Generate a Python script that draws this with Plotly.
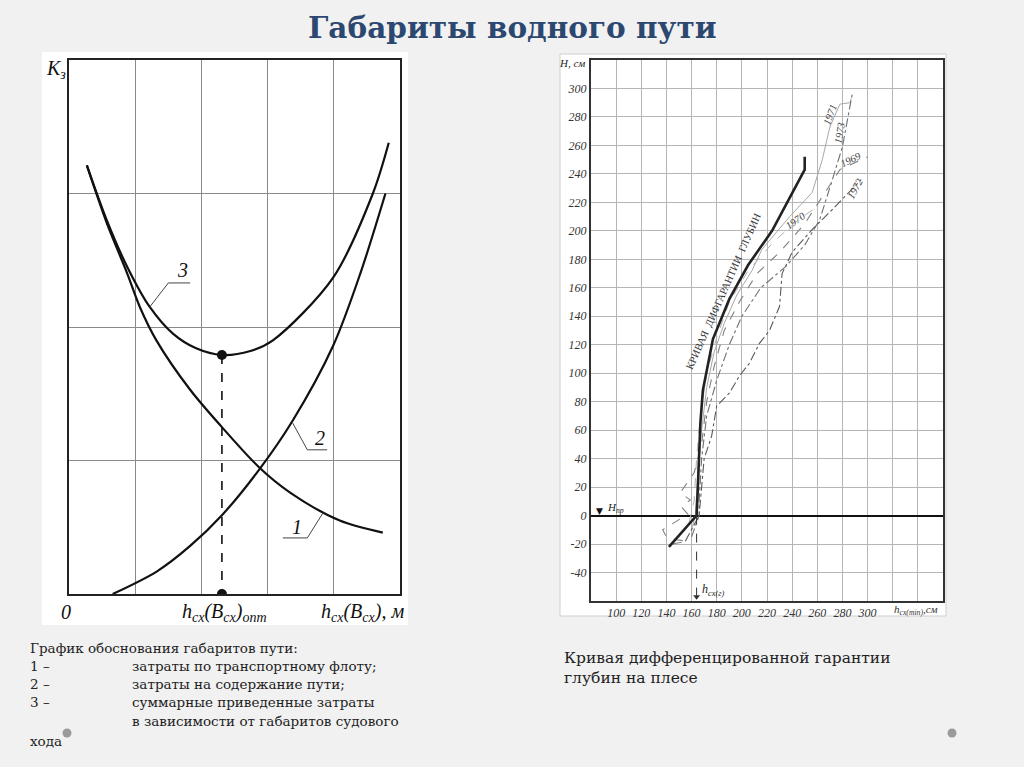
import plotly.graph_objects as go

W, H = 1024, 767


def px(x):
    return x / W


def py(y):
    return 1 - y / H


# ---------------- data: left chart (cost curves) ----------------
curve1_x = [0.27, 0.57, 0.88, 1.07, 1.32, 1.83, 2.31, 2.87, 3.34, 4.09, 4.74]
curve1_y = [3.21, 2.78, 2.40, 2.15, 1.90, 1.53, 1.25, 0.95, 0.76, 0.55, 0.46]

curve2_x = [0.66, 1.33, 1.83, 2.31, 2.87, 3.38, 3.99, 4.40, 4.78]
curve2_y = [0.00, 0.17, 0.36, 0.59, 0.93, 1.30, 1.86, 2.40, 3.00]

curve3_x = [0.27, 0.57, 0.88, 1.22, 1.57, 1.92, 2.31, 2.74, 3.08, 3.99, 4.59, 4.83]
curve3_y = [3.21, 2.80, 2.45, 2.15, 1.95, 1.84, 1.79, 1.82, 1.90, 2.37, 3.00, 3.38]

opt_x = 2.31
opt_y = 1.79

# ---------------- data: right chart (depth guarantee) ----------------
thick_x = [142, 164, 165, 166, 167, 169, 177, 190, 205, 224, 239, 250, 250]
thick_y = [-22, 0, 20, 45, 65, 88, 124, 152, 176, 200, 225, 243, 252]

y1971_x = [160, 163, 165, 168, 172, 178, 186, 196, 208, 216, 238, 256, 264, 270, 278, 286, 287]
y1971_y = [-10, 0, 30, 60, 90, 115, 135, 155, 172, 187, 210, 227, 250, 273, 289, 290, 293]

y1973_x = [160, 166, 166, 168, 172, 180, 190, 200, 215, 235, 250, 262, 272, 280, 288]
y1973_y = [-15, 0, 10, 40, 70, 95, 120, 140, 160, 175, 190, 208, 236, 259, 297]

y1969_x = [145, 156, 148, 140, 137, 157, 152, 159, 151, 162, 168, 172, 178, 186, 198, 212, 230, 250, 264, 278, 300]
y1969_y = [-20, -18, -17, -15, -10, 1, 6, 11, 16, 30, 50, 80, 105, 130, 150, 170, 185, 205, 224, 243, 252]

y1972_x = [155, 166, 168, 170, 176, 180, 190, 198, 206, 214, 222, 230, 232, 240, 256, 272, 295]
y1972_y = [-18, 0, 20, 40, 56, 77, 86, 98, 107, 121, 130, 147, 170, 185, 201, 215, 236]

y1970_x = [158, 162, 164, 167, 172, 180, 190, 205, 225, 245, 262]
y1970_y = [-5, 10, 40, 70, 100, 125, 150, 172, 192, 208, 218]

hcx_g = 164

x_ticks = [100, 120, 140, 160, 180, 200, 220, 240, 260, 280, 300, 320, 340]
x_ticklabels = ["100", "120", "140", "160", "180", "200", "220", "240", "260", "280", "300", "", ""]
y_ticks = [-40, -20, 0, 20, 40, 60, 80, 100, 120, 140, 160, 180, 200, 220, 240, 260, 280, 300]
y_ticklabels = [str(v) for v in y_ticks]

year_labels = ["1971", "1973", "1969", "1972", "1970"]

SERIF = "Liberation Serif"
CAP = "DejaVu Serif"

fig = go.Figure()

# left chart curves
for cx, cy in [(curve1_x, curve1_y), (curve2_x, curve2_y), (curve3_x, curve3_y)]:
    fig.add_trace(go.Scatter(x=cx, y=cy, mode="lines",
                             line=dict(color="#111", width=2.2, shape="spline", smoothing=0.9),
                             xaxis="x", yaxis="y", hoverinfo="skip"))
fig.add_trace(go.Scatter(x=[opt_x, opt_x], y=[opt_y, 0], mode="lines+markers",
                         line=dict(color="#111", width=1.6, dash="dash"),
                         marker=dict(size=10, color="#111"),
                         xaxis="x", yaxis="y", hoverinfo="skip"))

# right chart thin curves
styles = [
    ("#a8a8a8", "solid", 1.0),
    ("#707070", "dashdot", 1.1),
    ("#808080", "dash", 1.1),
    ("#5a5a5a", "dashdot", 1.1),
    ("#b0b0b0", "dash", 1.0),
]
thin = [(y1971_x, y1971_y), (y1973_x, y1973_y), (y1969_x, y1969_y), (y1972_x, y1972_y), (y1970_x, y1970_y)]
for (cx, cy), (col, dsh, wd) in zip(thin, styles):
    fig.add_trace(go.Scatter(x=cx, y=cy, mode="lines", line=dict(color=col, width=wd, dash=dsh),
                             xaxis="x2", yaxis="y2", hoverinfo="skip"))
fig.add_trace(go.Scatter(x=thick_x, y=thick_y, mode="lines", line=dict(color="#222", width=2.6),
                         xaxis="x2", yaxis="y2", hoverinfo="skip"))
fig.add_trace(go.Scatter(x=[hcx_g, hcx_g], y=[0, -57], mode="lines",
                         line=dict(color="#333", width=1, dash="dash"),
                         xaxis="x2", yaxis="y2", hoverinfo="skip"))
fig.add_trace(go.Scatter(x=[hcx_g], y=[-57], mode="markers",
                         marker=dict(symbol="triangle-down", size=6, color="#333"),
                         xaxis="x2", yaxis="y2", hoverinfo="skip"))

shapes = []
# white image boxes
shapes.append(dict(type="rect", xref="paper", yref="paper", x0=px(42), x1=px(408), y0=py(625), y1=py(52),
                   fillcolor="white", line=dict(width=0), layer="below"))
shapes.append(dict(type="rect", xref="paper", yref="paper", x0=px(560), x1=px(946), y0=py(616), y1=py(54),
                   fillcolor="white", line=dict(color="#cfcfcf", width=1), layer="below"))
# decorative dots
for cxp, cyp in [(67, 733), (952, 733)]:
    shapes.append(dict(type="circle", xref="paper", yref="paper", x0=px(cxp - 4.5), x1=px(cxp + 4.5),
                       y0=py(cyp + 4.5), y1=py(cyp - 4.5), fillcolor="#9a9a9a", line=dict(width=0)))
# leader lines for curve labels (left chart)
for seg in [[(1.22, 2.15), (1.50, 2.33), (1.83, 2.33)],
            [(3.38, 1.28), (3.60, 1.08), (3.90, 1.08)],
            [(3.84, 0.61), (3.60, 0.42), (3.23, 0.42)]]:
    for (xa, ya), (xb, yb) in zip(seg[:-1], seg[1:]):
        shapes.append(dict(type="line", xref="x", yref="y", x0=xa, y0=ya, x1=xb, y1=yb,
                           line=dict(color="#444", width=1)))

ann = []


def add(text, x, y, xref="paper", yref="paper", xanchor="center", yanchor="middle", **kw):
    d = dict(text=text, x=x, y=y, xref=xref, yref=yref, xanchor=xanchor, yanchor=yanchor, showarrow=False)
    d.update(kw)
    ann.append(d)


add("<b>Габариты водного пути</b>", px(512), py(28),
    font=dict(family="DejaVu Serif", size=29.5, color="#2c4870"))
# left chart labels
for t, xx, yy in [("3", 1.71, 2.43), ("2", 3.79, 1.17), ("1", 3.44, 0.50)]:
    add("<i>%s</i>" % t, xx, yy, xref="x", yref="y", font=dict(family=SERIF, size=20, color="#111"))
add("<i>K</i><sub><i>з</i></sub>", px(56), py(70), font=dict(family=SERIF, size=20, color="#111"))
add("<i>0</i>", px(66), py(612), font=dict(family=SERIF, size=20, color="#111"))
add("<i>h</i><sub><i>cx</i></sub><i>(B</i><sub><i>cx</i></sub><i>)</i><sub><i>опт</i></sub>",
    px(224), py(612), font=dict(family=SERIF, size=20, color="#111"))
add("<i>h</i><sub><i>cx</i></sub><i>(B</i><sub><i>cx</i></sub><i>), м</i>",
    px(406), py(612), xanchor="right", font=dict(family=SERIF, size=20, color="#111"))
# right chart labels
add("<i>H, см</i>", px(587), py(63), xanchor="right", font=dict(family=SERIF, size=11, color="#222"))
add("<i>h</i><sub><i>cx(min)</i></sub><i>,см</i>", px(916), py(610),
    font=dict(family=SERIF, size=11, color="#333"))
add("<i>h</i><sub><i>cx(г)</i></sub>", hcx_g + 3, -52, xref="x2", yref="y2", xanchor="left",
    font=dict(family=SERIF, size=12, color="#222"))
add("▼", 87, 3, xref="x2", yref="y2", font=dict(family="DejaVu Sans", size=9, color="#111"))
add("<i>H</i><sub><i>пр</i></sub>", 91, 5, xref="x2", yref="y2", xanchor="left",
    font=dict(family=SERIF, size=11, color="#222"))
add("КРИВАЯ  ДИФГАРАНТИИ  ГЛУБИН", px(723), py(291), textangle=-66,
    font=dict(family=SERIF, size=10.5, color="#333"))
for t, xx, yy, ang in zip(year_labels, [270, 278, 287, 290, 243], [282, 269, 250, 230, 207],
                          [-70, -80, -25, -62, -35]):
    add("<i>%s</i>" % t, xx, yy, xref="x2", yref="y2", textangle=ang,
        font=dict(family=SERIF, size=10.5, color="#444"))
# captions
left_lines = [("График обоснования габаритов пути:", 28, 648),
              ("1 –", 28, 666), ("затраты по транспортному флоту;", 130, 666),
              ("2 –", 28, 684), ("затраты на содержание пути;", 130, 684),
              ("3 –", 28, 702), ("суммарные приведенные затраты", 130, 702),
              ("в зависимости от габаритов судового", 130, 721),
              ("хода", 28, 741)]
for t, xx, yy in left_lines:
    add(t, px(xx), py(yy), xanchor="left", font=dict(family=CAP, size=13.5, color="#222"))
for t, yy in [("Кривая дифференцированной гарантии", 658), ("глубин на плесе", 678)]:
    add(t, px(562), py(yy), xanchor="left", font=dict(family=CAP, size=15.5, color="#222"))

fig.update_layout(
    width=W, height=H, margin=dict(l=0, r=0, t=0, b=0),
    paper_bgcolor="#f1f1f1", plot_bgcolor="white", showlegend=False,
    shapes=shapes, annotations=ann,
    xaxis=dict(domain=[px(69), px(400)], range=[0, 5], dtick=1, tick0=0, showgrid=True,
               gridcolor="#8a8a8a", gridwidth=1, showline=True, mirror=True, linecolor="#222",
               linewidth=2, showticklabels=False, zeroline=False, ticks="", anchor="y", fixedrange=True),
    yaxis=dict(domain=[py(594), py(60)], range=[0, 4], dtick=1, tick0=0, showgrid=True,
               gridcolor="#8a8a8a", gridwidth=1, showline=True, mirror=True, linecolor="#222",
               linewidth=2, showticklabels=False, zeroline=False, ticks="", anchor="x", fixedrange=True),
    xaxis2=dict(domain=[px(591), px(943)], range=[80, 360], tickvals=x_ticks, ticktext=x_ticklabels,
                showgrid=True, gridcolor="#b5b5b5", gridwidth=1, showline=True, mirror=True,
                linecolor="#333", linewidth=2, zeroline=False, ticks="", anchor="y2",
                tickfont=dict(family=SERIF, size=12, color="#333", style="italic"), fixedrange=True),
    yaxis2=dict(domain=[py(601), py(60)], range=[-60, 320], tickvals=y_ticks, ticktext=y_ticklabels,
                showgrid=True, gridcolor="#b5b5b5", gridwidth=1, showline=True, mirror=True,
                linecolor="#333", linewidth=2, zeroline=True, zerolinecolor="#111", zerolinewidth=2,
                ticks="", anchor="x2",
                tickfont=dict(family=SERIF, size=12, color="#333", style="italic"), fixedrange=True),
)

fig.write_html("out.html", config={"displayModeBar": False},
               post_script="document.body.style.margin='0';document.body.style.overflow='hidden';")
